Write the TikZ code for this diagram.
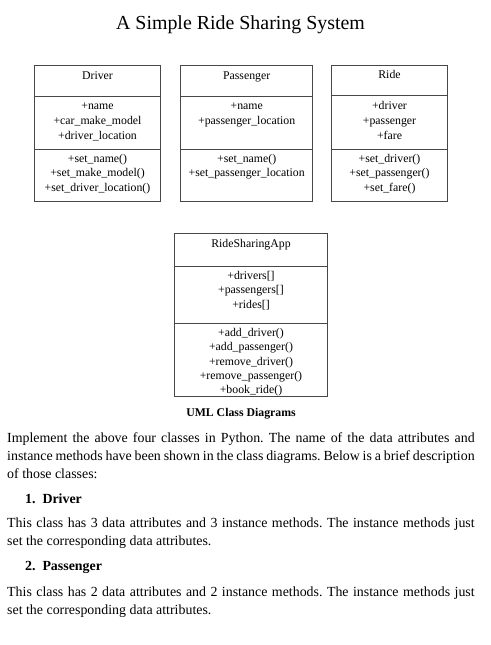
\documentclass[tikz,border=0pt]{standalone}
\usepackage{fontspec}
\setmainfont{Liberation Serif}
\frenchspacing
\begin{document}
\begin{tikzpicture}[x=1pt,y=-1pt,
  comp/.style={draw=black!72, line width=0.8pt, anchor=north west, inner sep=0pt, outer sep=0pt},
  bt/.style={anchor=base, inner sep=0pt, font=\fontsize{11.8pt}{14pt}\selectfont},
  body/.style={anchor=base west, inner sep=0pt, font=\fontsize{13.9pt}{18pt}\selectfont},
  head/.style={anchor=base west, inner sep=0pt, font=\fontsize{13.9pt}{18pt}\selectfont\bfseries}]
\fill[white] (0,0) rectangle (490,645);
\useasboundingbox (0,0) rectangle (490,645);
% title
\node[anchor=base, inner sep=0pt, font=\fontsize{19.9pt}{24pt}\selectfont] (title) at (240.5,29) {A Simple Ride Sharing System};
% Driver
\node[comp, minimum width=126.4pt, minimum height=30.8pt] (drvN) at (34.3,65.5) {};
\node[comp, minimum width=126.4pt, minimum height=53.5pt] (drvA) at (34.3,96.3) {};
\node[comp, minimum width=126.4pt, minimum height=51.9pt] (drvM) at (34.3,149.8) {};
\node[bt] (drvT) at (97.5,79) {Driver};
\foreach [count=\i from 0] \t in {+name,+car\_make\_model,+driver\_location}
  \node[bt] (drvA\i) at (97.5,109.5+15*\i) {\t};
\foreach [count=\i from 0] \t in {+set\_name(),+set\_make\_model(),+set\_driver\_location()}
  \node[bt] (drvM\i) at (97.5,162+14.6*\i) {\t};
% Passenger
\node[comp, minimum width=132pt, minimum height=30.8pt] (pasN) at (180.7,65.5) {};
\node[comp, minimum width=132pt, minimum height=53.5pt] (pasA) at (180.7,96.3) {};
\node[comp, minimum width=132pt, minimum height=51.9pt] (pasM) at (180.7,149.8) {};
\node[bt] (pasT) at (246.7,79) {Passenger};
\foreach [count=\i from 0] \t in {+name,+passenger\_location}
  \node[bt] (pasA\i) at (246.7,109.5+15*\i) {\t};
\foreach [count=\i from 0] \t in {+set\_name(),+set\_passenger\_location}
  \node[bt] (pasM\i) at (246.7,162+14.6*\i) {\t};
% Ride
\node[comp, minimum width=115.6pt, minimum height=30.7pt] (ridN) at (331.7,65) {};
\node[comp, minimum width=115.6pt, minimum height=53.6pt] (ridA) at (331.7,95.7) {};
\node[comp, minimum width=115.6pt, minimum height=52.4pt] (ridM) at (331.7,149.3) {};
\node[bt] (ridT) at (389.5,78.5) {Ride};
\foreach [count=\i from 0] \t in {+driver,+passenger,+fare}
  \node[bt] (ridA\i) at (389.5,109.5+15*\i) {\t};
\foreach [count=\i from 0] \t in {+set\_driver(),+set\_passenger(),+set\_fare()}
  \node[bt] (ridM\i) at (389.5,162+14.6*\i) {\t};
% RideSharingApp
\node[comp, minimum width=153.4pt, minimum height=33.4pt] (appN) at (174.3,233.3) {};
\node[comp, minimum width=153.4pt, minimum height=56.6pt] (appA) at (174.3,266.7) {};
\node[comp, minimum width=153.4pt, minimum height=73.4pt] (appM) at (174.3,323.3) {};
\node[bt] (appT) at (251,247) {RideSharingApp};
\foreach [count=\i from 0] \t in {+drivers[],+passengers[],+rides[]}
  \node[bt] (appA\i) at (251,279.5+14.3*\i) {\t};
\foreach [count=\i from 0] \t in {+add\_driver(),+add\_passenger(),+remove\_driver(),+remove\_passenger(),+book\_ride()}
  \node[bt] (appM\i) at (251,336.5+14.3*\i) {\t};
% caption
\node[bt, font=\fontsize{11.8pt}{14pt}\selectfont\bfseries] (cap) at (241,416) {UML Class Diagrams};
% body text
\node[body] (p1) at (7,442) {\makebox[467.5pt][s]{Implement the above four classes in Python. The name of the data attributes and}};
\node[body] (p2) at (7,460) {\makebox[467.5pt][s]{instance methods have been shown in the class diagrams. Below is a brief description}};
\node[body] (p3) at (7,478) {of those classes:};
\node[head] (h1n) at (25,503.5) {1.};
\node[head] (h1) at (42.3,503.5) {Driver};
\node[body] (d1) at (7,527.5) {\makebox[467.5pt][s]{This class has 3 data attributes and 3 instance methods. The instance methods just}};
\node[body] (d2) at (7,545.5) {set the corresponding data attributes.};
\node[head] (h2n) at (25,570.5) {2.};
\node[head] (h2) at (42.3,570.5) {Passenger};
\node[body] (e1) at (7,596) {\makebox[467.5pt][s]{This class has 2 data attributes and 2 instance methods. The instance methods just}};
\node[body] (e2) at (7,614) {set the corresponding data attributes.};
\end{tikzpicture}
\end{document}
